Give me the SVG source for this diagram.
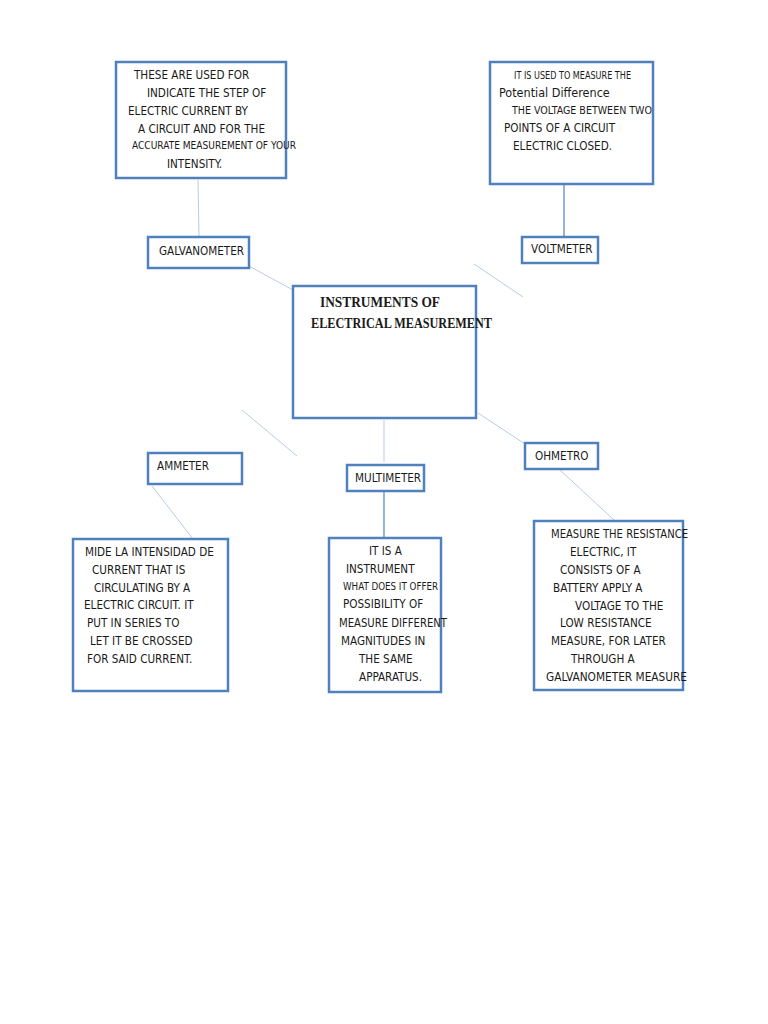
<svg xmlns="http://www.w3.org/2000/svg" width="768" height="1024" viewBox="0 0 768 1024">
<style>
.box{fill:#fff;stroke:#4f81bd;stroke-width:2.5}
.t{font-family:"DejaVu Sans Condensed","DejaVu Sans",sans-serif;font-stretch:condensed;font-size:11.6px;fill:#1a1a1a}
.s{font-size:10px}
.h{font-family:"Liberation Serif",serif;font-weight:bold;font-size:15.5px;fill:#1a1a1a}
.lc{stroke:#b9cbe6;stroke-width:1;fill:none}
.dc{stroke:#4f81bd;stroke-width:1.2;fill:none}
</style>
<rect width="768" height="1024" fill="#fff"/>
<g id="connectors">
<line class="lc" x1="198" y1="180" x2="199" y2="237"/>
<line class="lc" x1="249" y1="266" x2="293" y2="290"/>
<line class="lc" x1="474" y1="264" x2="523" y2="297"/>
<line class="dc" x1="564" y1="184" x2="564" y2="237"/>
<line class="lc" x1="242" y1="410" x2="297" y2="456"/>
<line class="lc" x1="384" y1="420" x2="384" y2="462"/>
<line class="dc" x1="384" y1="492" x2="384" y2="538"/>
<line class="lc" x1="478" y1="413" x2="525" y2="444"/>
<line class="lc" x1="152" y1="486" x2="193" y2="539"/>
<line class="lc" x1="560" y1="470" x2="614" y2="520"/>
</g>
<g id="galv-desc">
<rect class="box" x="116" y="62" width="170" height="116"/>
<text class="t" x="134" y="79">THESE ARE USED FOR</text>
<text class="t" x="147" y="97">INDICATE THE STEP OF</text>
<text class="t" x="128" y="115">ELECTRIC CURRENT BY</text>
<text class="t" x="138" y="133">A CIRCUIT AND FOR THE</text>
<text class="t s" x="132" y="149" textLength="164" lengthAdjust="spacingAndGlyphs">ACCURATE MEASUREMENT OF YOUR</text>
<text class="t" x="167" y="168">INTENSITY.</text>
</g>
<g id="volt-desc">
<rect class="box" x="490" y="62" width="163" height="122"/>
<text class="t s" x="514" y="79" textLength="117" lengthAdjust="spacingAndGlyphs">IT IS USED TO MEASURE THE</text>
<text class="t" x="499" y="97" style="font-size:12.5px">Potential Difference</text>
<text class="t s" x="512" y="114" textLength="140" lengthAdjust="spacingAndGlyphs">THE VOLTAGE BETWEEN TWO</text>
<text class="t" x="504" y="132">POINTS OF A CIRCUIT</text>
<text class="t" x="513" y="150">ELECTRIC CLOSED.</text>
</g>
<g id="galvanometer">
<rect class="box" x="148" y="237" width="101" height="31"/>
<text class="t" x="159" y="255">GALVANOMETER</text>
</g>
<g id="voltmeter">
<rect class="box" x="522" y="237" width="76" height="26"/>
<text class="t" x="531" y="253">VOLTMETER</text>
</g>
<g id="center">
<rect class="box" x="293" y="286" width="183" height="132"/>
<text class="h" x="320" y="307" textLength="120" lengthAdjust="spacingAndGlyphs">INSTRUMENTS OF</text>
<text class="h" x="311" y="328" textLength="181" lengthAdjust="spacingAndGlyphs">ELECTRICAL MEASUREMENT</text>
</g>
<g id="ammeter">
<rect class="box" x="148" y="453" width="94" height="31"/>
<text class="t" x="157" y="470">AMMETER</text>
</g>
<g id="multimeter">
<rect class="box" x="347" y="465" width="77" height="26"/>
<text class="t" x="355" y="482">MULTIMETER</text>
</g>
<g id="ohmetro">
<rect class="box" x="525" y="443" width="73" height="26"/>
<text class="t" x="535" y="460">OHMETRO</text>
</g>
<g id="ammeter-desc">
<rect class="box" x="73" y="539" width="155" height="152"/>
<text class="t" x="85" y="556">MIDE LA INTENSIDAD DE</text>
<text class="t" x="92" y="574">CURRENT THAT IS</text>
<text class="t" x="94" y="592">CIRCULATING BY A</text>
<text class="t" x="84" y="609">ELECTRIC CIRCUIT. IT</text>
<text class="t" x="87" y="627">PUT IN SERIES TO</text>
<text class="t" x="90" y="645">LET IT BE CROSSED</text>
<text class="t" x="87" y="663">FOR SAID CURRENT.</text>
</g>
<g id="multimeter-desc">
<rect class="box" x="329" y="538" width="112" height="154"/>
<text class="t" x="369" y="555">IT IS A</text>
<text class="t" x="346" y="573">INSTRUMENT</text>
<text class="t s" x="343" y="590" textLength="95" lengthAdjust="spacingAndGlyphs">WHAT DOES IT OFFER</text>
<text class="t" x="343" y="608">POSSIBILITY OF</text>
<text class="t" x="339" y="627" textLength="108" lengthAdjust="spacingAndGlyphs">MEASURE DIFFERENT</text>
<text class="t" x="341" y="645">MAGNITUDES IN</text>
<text class="t" x="359" y="663">THE SAME</text>
<text class="t" x="359" y="681">APPARATUS.</text>
</g>
<g id="ohmetro-desc">
<rect class="box" x="534" y="521" width="149" height="169"/>
<text class="t" x="551" y="538" textLength="137" lengthAdjust="spacingAndGlyphs">MEASURE THE RESISTANCE</text>
<text class="t" x="570" y="556">ELECTRIC, IT</text>
<text class="t" x="560" y="574">CONSISTS OF A</text>
<text class="t" x="553" y="592">BATTERY APPLY A</text>
<text class="t" x="575" y="610">VOLTAGE TO THE</text>
<text class="t" x="560" y="627">LOW RESISTANCE</text>
<text class="t" x="551" y="645">MEASURE, FOR LATER</text>
<text class="t" x="571" y="663">THROUGH A</text>
<text class="t" x="546" y="681" textLength="141" lengthAdjust="spacingAndGlyphs">GALVANOMETER MEASURE</text>
</g>
</svg>
